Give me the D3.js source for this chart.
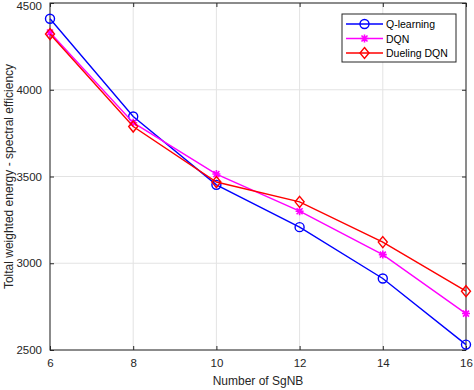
<!DOCTYPE html>
<html>
<head>
<meta charset="utf-8">
<script src="https://cdn.jsdelivr.net/npm/d3@7"></script>
<style>
  body { margin: 0; background: #fff; }
  text { font-family: "Liberation Sans", Arial, sans-serif; }
</style>
</head>
<body>
<svg id="chart" width="474" height="390"></svg>
<script>
var xValues = [6, 8, 10, 12, 14, 16];
var qLearning = [4409, 3846, 3452, 3208, 2912, 2531];
var dqn = [4330, 3810, 3514, 3300, 3050, 2710];
var duelingDqn = [4321, 3788, 3468, 3354, 3122, 2839];
var yTicks = [2500, 3000, 3500, 4000, 4500];
var seriesNames = ["Q-learning", "DQN", "Dueling DQN"];

var svg = d3.select("#chart"),
    margin = {top: 3, right: 8, bottom: 40, left: 50},
    width = +svg.attr("width") - margin.left - margin.right,
    height = +svg.attr("height") - margin.top - margin.bottom,
    g = svg.append("g").attr("transform", "translate(" + margin.left + "," + margin.top + ")");

var x = d3.scaleLinear().domain([6, 16]).range([0, width]);
var y = d3.scaleLinear().domain([2500, 4500]).range([height, 0]);

var axisColor = "#262626";

// grid
g.append("g").selectAll("line").data(xValues).enter().append("line")
    .attr("x1", function(d) { return x(d); }).attr("x2", function(d) { return x(d); })
    .attr("y1", 0).attr("y2", height)
    .attr("stroke", "#e3e3e3").attr("stroke-width", 1);
g.append("g").selectAll("line").data(yTicks).enter().append("line")
    .attr("y1", function(d) { return y(d); }).attr("y2", function(d) { return y(d); })
    .attr("x1", 0).attr("x2", width)
    .attr("stroke", "#e3e3e3").attr("stroke-width", 1);

function styleAxis(sel, noText) {
  sel.select(".domain").remove();
  sel.selectAll("line").attr("stroke", axisColor);
  sel.selectAll("text").attr("fill", axisColor).style("font-size", "11.5px");
  if (noText) sel.selectAll("text").remove();
}

g.append("g").attr("transform", "translate(0," + height + ")")
    .call(d3.axisBottom(x).tickValues(xValues).tickSize(-4).tickPadding(9))
    .call(styleAxis);
g.append("g").call(d3.axisTop(x).tickValues(xValues).tickSize(-4))
    .call(styleAxis, true);
var yAxis = g.append("g")
    .call(d3.axisLeft(y).tickValues(yTicks).tickFormat(d3.format("d")).tickSize(-4).tickPadding(8))
    .call(styleAxis);
// keep the top label inside the window
yAxis.selectAll("text").filter(function(d) { return d === 4500; }).attr("dy", "0.55em");
g.append("g").attr("transform", "translate(" + width + ",0)")
    .call(d3.axisRight(y).tickValues(yTicks).tickSize(-4))
    .call(styleAxis, true);

g.append("rect").attr("width", width).attr("height", height)
    .attr("fill", "none").attr("stroke", axisColor).attr("stroke-width", 1);

var line = d3.line()
    .x(function(d) { return x(d[0]); })
    .y(function(d) { return y(d[1]); });

var series = [
  {name: seriesNames[0], values: qLearning, color: "#0000ff", marker: "circle"},
  {name: seriesNames[1], values: dqn, color: "#ff00ff", marker: "star"},
  {name: seriesNames[2], values: duelingDqn, color: "#ff0000", marker: "diamond"}
];

function drawMarker(sel, type, color) {
  if (type === "circle") {
    sel.append("circle").attr("r", 4.5).attr("fill", "none")
        .attr("stroke", color).attr("stroke-width", 1.4);
  } else if (type === "diamond") {
    sel.append("path").attr("d", "M0,-5.5L4.5,0L0,5.5L-4.5,0Z").attr("fill", "none")
        .attr("stroke", color).attr("stroke-width", 1.4);
  } else {
    sel.append("path").attr("d", "M-4,0L4,0M0,-4L0,4M-3,-3L3,3M-3,3L3,-3")
        .attr("fill", "none").attr("stroke", color).attr("stroke-width", 1.6);
  }
}

series.forEach(function(s) {
  var pts = xValues.map(function(v, i) { return [v, s.values[i]]; });
  g.append("path").datum(pts)
      .attr("fill", "none").attr("stroke", s.color).attr("stroke-width", 1.4)
      .attr("d", line);
  pts.forEach(function(p) {
    var m = g.append("g").attr("transform", "translate(" + x(p[0]) + "," + y(p[1]) + ")");
    drawMarker(m, s.marker, s.color);
  });
});

// legend
var legend = svg.append("g").attr("transform", "translate(342,14)");
legend.append("rect").attr("width", 114).attr("height", 48)
    .attr("fill", "#fff").attr("stroke", axisColor).attr("stroke-width", 1);
series.forEach(function(s, i) {
  var row = legend.append("g").attr("transform", "translate(0," + (10 + i * 14.5) + ")");
  row.append("line").attr("x1", 4).attr("x2", 41).attr("stroke", s.color).attr("stroke-width", 1.4);
  var m = row.append("g").attr("transform", "translate(22.5,0)");
  drawMarker(m, s.marker, s.color);
  row.append("text").attr("x", 44).attr("y", 4).text(s.name)
      .style("font-size", "10.5px").attr("fill", "#000");
});

svg.append("text")
    .attr("x", margin.left + width / 2).attr("y", 385)
    .attr("text-anchor", "middle").style("font-size", "12px").attr("fill", axisColor)
    .text("Number of SgNB");
svg.append("text")
    .attr("transform", "translate(13," + (margin.top + height / 2) + ") rotate(-90)")
    .attr("text-anchor", "middle").style("font-size", "12px").attr("fill", axisColor)
    .text("Toltal weighted energy - spectral efficiency");
</script>
</body>
</html>
